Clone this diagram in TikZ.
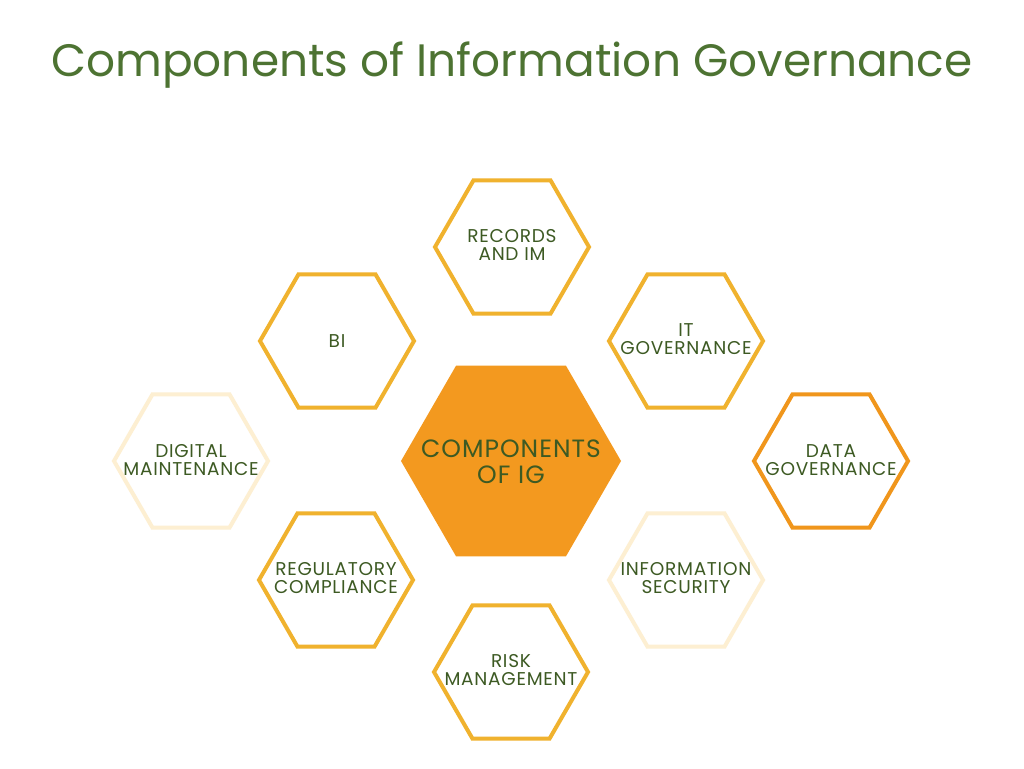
\documentclass[tikz,border=0pt]{standalone}
\usepackage{fontspec}
\setmainfont{Poppins}
\newfontfamily\labelfont{Poppins}[LetterSpace=4]
\definecolor{gold}{HTML}{F0B22E}
\definecolor{deeporange}{HTML}{F0961C}
\definecolor{pale}{HTML}{FDEFD2}
\definecolor{core}{HTML}{F3991F}
\definecolor{labelgreen}{HTML}{3D5A23}
\definecolor{titlegreen}{HTML}{4D7332}
\begin{document}
\begin{tikzpicture}[x=1pt,y=-1pt,
  hexline/.style={line width=4pt,line join=miter},
  hexlabel/.style={text=labelgreen,font=\labelfont\fontsize{18.5}{17.5}\selectfont,align=center,inner sep=0pt},
  corelabel/.style={text=labelgreen,font=\labelfont\fontsize{25}{26}\selectfont,align=center,inner sep=0pt},
  titletext/.style={text=titlegreen,font=\fontsize{45.4}{50}\selectfont,inner sep=0pt,anchor=base}]
\useasboundingbox (0,0) rectangle (1024,768);
\fill[white] (0,0) rectangle (1024,768);
\node[titletext] (title) at (512,77) {Components of Information Governance};
% centres
\coordinate (cR) at (512,247);
\coordinate (cB) at (337,341);
\coordinate (cT) at (686,341);
\coordinate (cD) at (191,461);
\coordinate (cG) at (831,461);
\coordinate (cC) at (511,461);
\coordinate (cRC) at (336,580);
\coordinate (cS) at (686,580);
\coordinate (cM) at (511,672);
% core
\fill[core] (cC) ++(0:110) -- ++(120:110) -- ++(180:110) -- ++(240:110) -- ++(300:110) -- ++(0:110) -- cycle;
% outlines
\draw[hexline,gold] (cR) ++(0:77) -- ++(120:77) -- ++(180:77) -- ++(240:77) -- ++(300:77) -- ++(0:77) -- cycle;
\draw[hexline,gold] (cB) ++(0:77) -- ++(120:77) -- ++(180:77) -- ++(240:77) -- ++(300:77) -- ++(0:77) -- cycle;
\draw[hexline,gold] (cT) ++(0:77) -- ++(120:77) -- ++(180:77) -- ++(240:77) -- ++(300:77) -- ++(0:77) -- cycle;
\draw[hexline,pale] (cD) ++(0:77) -- ++(120:77) -- ++(180:77) -- ++(240:77) -- ++(300:77) -- ++(0:77) -- cycle;
\draw[hexline,deeporange] (cG) ++(0:77) -- ++(120:77) -- ++(180:77) -- ++(240:77) -- ++(300:77) -- ++(0:77) -- cycle;
\draw[hexline,gold] (cRC) ++(0:77) -- ++(120:77) -- ++(180:77) -- ++(240:77) -- ++(300:77) -- ++(0:77) -- cycle;
\draw[hexline,pale] (cS) ++(0:77) -- ++(120:77) -- ++(180:77) -- ++(240:77) -- ++(300:77) -- ++(0:77) -- cycle;
\draw[hexline,gold] (cM) ++(0:77) -- ++(120:77) -- ++(180:77) -- ++(240:77) -- ++(300:77) -- ++(0:77) -- cycle;
% labels
\node[hexlabel] (lR) at (512,245) {RECORDS\\AND IM};
\node[hexlabel] (lB) at (337,341) {BI};
\node[hexlabel] (lT) at (686,339) {IT\\GOVERNANCE};
\node[hexlabel] (lD) at (191,460) {DIGITAL\\MAINTENANCE};
\node[hexlabel] (lG) at (831,460) {DATA\\GOVERNANCE};
\node[corelabel] (lC) at (511,462) {COMPONENTS\\OF IG};
\node[hexlabel] (lRC) at (336,578) {REGULATORY\\COMPLIANCE};
\node[hexlabel] (lS) at (686,578) {INFORMATION\\SECURITY};
\node[hexlabel] (lM) at (511,670) {RISK\\MANAGEMENT};
\end{tikzpicture}
\end{document}
